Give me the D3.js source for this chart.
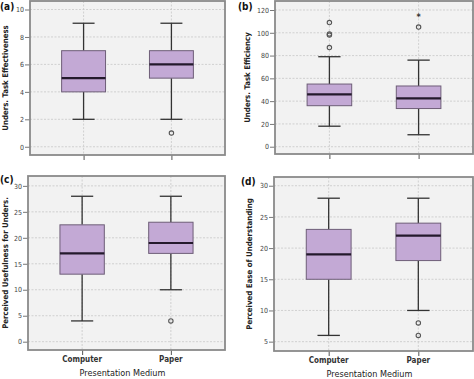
<!DOCTYPE html>
<html>
<head>
<meta charset="utf-8">
<style>
  body { margin: 0; background: #fff; font-family: 'DejaVu Sans Condensed', 'DejaVu Sans', sans-serif; }
  svg { position: absolute; top: 0; left: 0; }
  .tick text { font-family: 'DejaVu Sans Condensed', 'DejaVu Sans', sans-serif; font-size: 7px; fill: #444; }
  .ytitle { font-size: 7.8px; font-weight: bold; fill: #222; text-anchor: middle; }
  .xlab { font-size: 8px; font-weight: bold; fill: #333; text-anchor: middle; }
  .xtitle { font-size: 9px; fill: #222; text-anchor: middle; }
  .plabel { font-size: 10px; font-weight: bold; fill: #111; }
</style>
<script src="https://d3js.org/d3.v7.min.js"></script>
</head>
<body>
<script>
////////////// Data //////////////

const groups = ["Computer", "Paper"]

// [whisker low, Q1, median, Q3, whisker high] per group
const effectiveness = [[2, 4, 5, 7, 9], [2, 5, 6, 7, 9]]
const efficiency = [[18, 36, 46, 55, 79], [10.5, 33.5, 42.5, 53.3, 76]]
const usefulness = [[4, 13, 17, 22.5, 28], [10, 17, 19, 23, 28]]
const easeOfUnders = [[6, 15, 19, 23, 28], [10, 18, 22, 24, 28]]

// outliers (circles) and extremes (asterisks) per group
const effOutliers = [[], [1]]
const efcOutliers = [[87, 98, 99, 109], [105]]
const efcExtremes = [[], [115]]
const useOutliers = [[], [4]]
const easeOutliers = [[], [8, 6]]

const ticksA = [0, 2, 4, 6, 8, 10]
const ticksB = [0, 20, 40, 60, 80, 100, 120]
const ticksC = [0, 5, 10, 15, 20, 25, 30]
const ticksD = [5, 10, 15, 20, 25, 30]

////////////// Panels //////////////

const svg = d3.select("body").append("svg")
  .attr("width", 474).attr("height", 379)

const panels = [
  { label: "(a)", title: "Unders. Task Effectiveness", stats: effectiveness, out: effOutliers, ext: [[], []],
    ticks: ticksA, domain: [-0.6, 10.62], box: { x: 30, y: 1, w: 195, h: 154 }, lab: [0, 10], tx: 8, xlabels: false },
  { label: "(b)", title: "Unders. Task Efficiency", stats: efficiency, out: efcOutliers, ext: efcExtremes,
    ticks: ticksB, domain: [-6.4, 127.9], box: { x: 275, y: 1, w: 198, h: 153 }, lab: [238, 10], tx: 250, xlabels: false },
  { label: "(c)", title: "Perceived Usefulness for Unders.", stats: usefulness, out: useOutliers, ext: [[], []],
    ticks: ticksC, domain: [-1.6, 31.9], box: { x: 28, y: 176, w: 197, h: 174 }, lab: [0, 183], tx: 8, xlabels: true },
  { label: "(d)", title: "Perceived Ease of Understanding", stats: easeOfUnders, out: easeOutliers, ext: [[], []],
    ticks: ticksD, domain: [3.5, 31.4], box: { x: 274, y: 177, w: 199, h: 174 }, lab: [241, 185], tx: 252, xlabels: true }
]

panels.forEach(p => {
  const b = p.box
  const g = svg.append("g").attr("transform", `translate(${b.x},${b.y})`)

  const x = d3.scalePoint().domain(groups).range([0, b.w]).padding(0.61)
  const y = d3.scaleLinear().domain(p.domain).range([b.h, 0])
  const bw = x.step() * 0.5

  // plot background
  g.append("rect").attr("width", b.w).attr("height", b.h).attr("fill", "#f2f2f2")

  // grid lines
  g.selectAll(".hg").data(p.ticks).join("line")
    .attr("x1", 0).attr("x2", b.w)
    .attr("y1", d => y(d)).attr("y2", d => y(d))
    .attr("stroke", "#c8c8c8").attr("stroke-width", 0.8).attr("stroke-dasharray", "2,1.5")
  g.selectAll(".vg").data(groups).join("line")
    .attr("x1", d => x(d)).attr("x2", d => x(d))
    .attr("y1", 0).attr("y2", b.h)
    .attr("stroke", "#c8c8c8").attr("stroke-width", 0.8).attr("stroke-dasharray", "2,1.5")

  // axes
  const yAxis = g.append("g").call(d3.axisLeft(y).tickValues(p.ticks).tickSize(5).tickPadding(1))
  yAxis.select(".domain").remove()
  yAxis.selectAll("line").attr("stroke", "#777")

  const xAxis = g.append("g").attr("transform", `translate(0,${b.h})`)
    .call(d3.axisBottom(x).tickSize(5).tickFormat(""))
  xAxis.select(".domain").remove()
  xAxis.selectAll("line").attr("stroke", "#555")

  // boxes
  groups.forEach((grp, i) => {
    const [lo, q1, med, q3, hi] = p.stats[i]
    const cx = x(grp)
    const bg = g.append("g")
    bg.append("line").attr("x1", cx).attr("x2", cx).attr("y1", y(lo)).attr("y2", y(q1))
      .attr("stroke", "#333").attr("stroke-width", 1.3)
    bg.append("line").attr("x1", cx).attr("x2", cx).attr("y1", y(q3)).attr("y2", y(hi))
      .attr("stroke", "#333").attr("stroke-width", 1.3)
    ;[lo, hi].forEach(v => {
      bg.append("line").attr("x1", cx - bw / 4).attr("x2", cx + bw / 4)
        .attr("y1", y(v)).attr("y2", y(v))
        .attr("stroke", "#333").attr("stroke-width", 1.3)
    })
    bg.append("rect").attr("x", cx - bw / 2).attr("width", bw)
      .attr("y", y(q3)).attr("height", y(q1) - y(q3))
      .attr("fill", "#c3a9d5").attr("stroke", "#6e5e78").attr("stroke-width", 1)
    bg.append("line").attr("x1", cx - bw / 2).attr("x2", cx + bw / 2)
      .attr("y1", y(med)).attr("y2", y(med))
      .attr("stroke", "#241a2c").attr("stroke-width", 2.2)

    p.out[i].forEach(v => {
      bg.append("circle").attr("cx", cx).attr("cy", y(v)).attr("r", 2.2)
        .attr("fill", "none").attr("stroke", "#555").attr("stroke-width", 1.1)
    })
    p.ext[i].forEach(v => {
      bg.append("text").attr("x", cx).attr("y", y(v) + 4)
        .attr("text-anchor", "middle").attr("font-size", 9).attr("font-weight", "bold")
        .attr("fill", "#333").text("*")
    })
  })

  // frame
  g.append("rect").attr("width", b.w).attr("height", b.h)
    .attr("fill", "none").attr("stroke", "#8a8a8a").attr("stroke-width", 1.8)

  // y title
  svg.append("text").attr("class", "ytitle")
    .attr("transform", `translate(${p.tx},${b.y + b.h / 2}) rotate(-90)`)
    .text(p.title)

  // panel label
  svg.append("text").attr("class", "plabel").attr("x", p.lab[0]).attr("y", p.lab[1]).text(p.label)

  if (p.xlabels) {
    g.selectAll(".xl").data(groups).join("text").attr("class", "xlab")
      .attr("x", d => x(d)).attr("y", b.h + 12).text(d => d)
    g.append("text").attr("class", "xtitle")
      .attr("x", b.w / 2 - 4).attr("y", b.h + 26).text("Presentation Medium")
  }
})
</script>
</body>
</html>
